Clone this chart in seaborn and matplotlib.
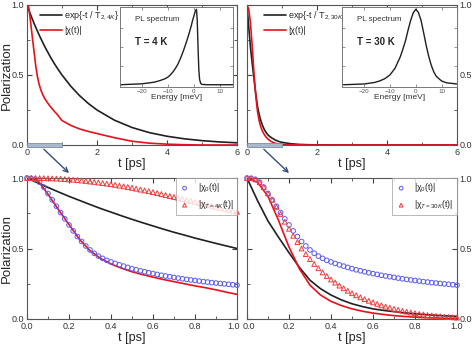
import numpy as np
import matplotlib
matplotlib.use("Agg")
import matplotlib.pyplot as plt
import matplotlib.transforms as mtransforms
from matplotlib.patches import Rectangle, ConnectionPatch
import seaborn as sns

# time grid for the lines (fine part 0..1 ps, then the tail up to 6 ps)
t_fine = [0, 0.05, 0.1, 0.15, 0.2, 0.25, 0.3, 0.35, 0.4, 0.45, 0.5,
          0.55, 0.6, 0.65, 0.7, 0.75, 0.8, 0.85, 0.9, 0.95, 1.0]
t_tail = [1.25, 1.5, 1.75, 2.0, 2.5, 3.0, 3.5, 4.0, 4.5, 5.0, 5.5, 6.0]

# T = 4 K
exp4k_fine = [1.0, 0.966, 0.933, 0.901, 0.870, 0.841, 0.812, 0.784, 0.758, 0.732, 0.707,
              0.683, 0.660, 0.637, 0.615, 0.595, 0.574, 0.555, 0.536, 0.518, 0.500]
exp4k_tail = [0.42, 0.353, 0.297, 0.25, 0.177, 0.125, 0.088, 0.0625, 0.044, 0.031, 0.022, 0.0156]
chi4k_fine = [1.0, 0.985, 0.885, 0.775, 0.67, 0.565, 0.485, 0.43, 0.39, 0.36, 0.335,
              0.315, 0.297, 0.28, 0.265, 0.25, 0.235, 0.222, 0.207, 0.19, 0.175]
chi4k_tail = [0.14, 0.115, 0.097, 0.082, 0.052, 0.027, 0.013, 0.006, 0.002, 0.0, 0.0, 0.0]

# T = 30 K
exp30k_fine = [1.0, 0.84, 0.695, 0.58, 0.47, 0.365, 0.275, 0.215, 0.17, 0.135, 0.108,
               0.088, 0.072, 0.061, 0.052, 0.044, 0.037, 0.031, 0.026, 0.022, 0.019]
exp30k_tail = [0.009, 0.004, 0.002, 0.001, 0.0, 0.0, 0.0, 0.0, 0.0, 0.0, 0.0, 0.0]
chi30k_fine = [1.0, 0.97, 0.87, 0.70, 0.51, 0.355, 0.24, 0.17, 0.125, 0.095, 0.072,
               0.055, 0.042, 0.032, 0.024, 0.018, 0.013, 0.009, 0.007, 0.005, 0.004]
chi30k_tail = [0.002, 0.001, 0.0, 0.0, 0.0, 0.0, 0.0, 0.0, 0.0, 0.0, 0.0, 0.0]

# symbols in the zoomed panels
t_sym = np.round(np.arange(0, 1.0001, 0.02), 2)
chi0 = [1.0, 0.998, 0.99, 0.97, 0.935, 0.89, 0.845, 0.80, 0.755, 0.71,
        0.667, 0.625, 0.585, 0.55, 0.518, 0.49, 0.466, 0.446, 0.43, 0.416,
        0.405, 0.394, 0.384, 0.375, 0.366, 0.357, 0.349, 0.342, 0.335, 0.328,
        0.322, 0.316, 0.31, 0.305, 0.30, 0.295, 0.29, 0.285, 0.281, 0.277,
        0.273, 0.269, 0.265, 0.262, 0.258, 0.255, 0.252, 0.249, 0.246, 0.243, 0.24]
chiT4k = [1.0, 1.0, 1.0, 0.999, 0.999, 0.998, 0.997, 0.996, 0.994, 0.992,
          0.99, 0.988, 0.985, 0.982, 0.979, 0.975, 0.972, 0.968, 0.964, 0.96,
          0.956, 0.951, 0.946, 0.941, 0.936, 0.93, 0.924, 0.918, 0.912, 0.906,
          0.90, 0.893, 0.886, 0.879, 0.872, 0.865, 0.858, 0.851, 0.844, 0.837,
          0.83, 0.823, 0.816, 0.809, 0.802, 0.795, 0.788, 0.781, 0.774, 0.767, 0.76]
chiT30k = [1.0, 0.998, 0.99, 0.97, 0.935, 0.89, 0.845, 0.795, 0.745, 0.69,
           0.64, 0.59, 0.545, 0.50, 0.46, 0.425, 0.39, 0.36, 0.33, 0.305,
           0.28, 0.258, 0.237, 0.218, 0.20, 0.183, 0.168, 0.154, 0.141, 0.129,
           0.118, 0.107, 0.097, 0.088, 0.08, 0.072, 0.065, 0.058, 0.052, 0.046,
           0.041, 0.036, 0.032, 0.028, 0.025, 0.022, 0.019, 0.016, 0.014, 0.012, 0.01]

# PL spectra (insets)
e_4k = [-28, -25, -20, -17, -15, -13, -11, -10, -9, -8, -7, -6, -5, -4, -3, -2, -1,
        -0.5, 0, 0.5, 1.0, 1.3, 1.6, 1.9, 2.2, 2.6, 3.0, 5.0, 15.0]
pl_4k = [0.0, 0.005, 0.012, 0.025, 0.035, 0.055, 0.08, 0.10, 0.13, 0.17, 0.22, 0.28,
         0.36, 0.45, 0.55, 0.66, 0.78, 0.85, 0.91, 0.97, 1.0, 0.85, 0.5, 0.2, 0.07,
         0.02, 0.005, 0.0, 0.0]
e_30k = [-28, -20, -16, -14, -12, -10, -8, -6, -5, -4, -3, -2, -1, 0,
         1, 2, 3, 4, 5, 6, 7, 8, 10, 12, 16]
pl_30k = [0.0, 0.01, 0.03, 0.05, 0.08, 0.13, 0.22, 0.37, 0.47, 0.58, 0.72, 0.85, 0.95, 1.0,
          0.96, 0.86, 0.70, 0.53, 0.38, 0.26, 0.17, 0.11, 0.05, 0.025, 0.01]

sns.set_style("ticks")
plt.rcParams['font.family'] = ['Liberation Sans', 'DejaVu Sans']
plt.rcParams['mathtext.fontset'] = 'custom'
plt.rcParams['mathtext.rm'] = 'Liberation Sans'
plt.rcParams['mathtext.it'] = 'Liberation Sans:italic'

W, H = 474, 355
fig = plt.figure(figsize=(W / 100, H / 100), dpi=100)


def box(x0, y0, x1, y1):
    return [x0 / W, 1 - y1 / H, (x1 - x0) / W, (y1 - y0) / H]


ax_tl = fig.add_axes(box(27, 5, 237, 145))
ax_tr = fig.add_axes(box(247, 5, 457, 145))
ax_bl = fig.add_axes(box(27, 178, 237, 319))
ax_br = fig.add_axes(box(247, 178, 457, 319))

red = '#e8101a'
blk = '#202020'
lw = 1.2


def style_main(ax, top, right_labels):
    ax.set_ylim(0, 1)
    ax.set_yticks([0, 0.5, 1.0])
    ax.set_yticks([0.25, 0.75], minor=True)
    ax.set_yticklabels(['0.0', '0.5', '1.0'])
    if top:
        ax.set_xlim(0, 6)
        ax.set_xticks([0, 2, 4, 6])
        ax.set_xticks([1, 3, 5], minor=True)
    else:
        ax.set_xlim(0, 1)
        ax.set_xticks([0, 0.2, 0.4, 0.6, 0.8, 1.0])
        ax.set_xticklabels(['0.0', '0.2', '0.4', '0.6', '0.8', '1.0'])
        ax.set_xticks([0.1, 0.3, 0.5, 0.7, 0.9], minor=True)
    ax.tick_params(which='both', direction='in', top=True, right=True, left=True,
                   labelsize=6.5, pad=2, color='#444444', labelcolor='#333333')
    ax.tick_params(which='major', length=3.5, width=0.8)
    ax.tick_params(which='minor', length=2, width=0.6)
    if right_labels:
        ax.tick_params(labelleft=False, labelright=True)
    for s in ax.spines.values():
        s.set_color('#555555')
        s.set_linewidth(0.8)
    ax.set_xlabel('t [ps]', fontsize=9, labelpad=1)
    if not right_labels:
        ax.set_ylabel('Polarization', fontsize=9.5)
        ax.yaxis.set_label_coords(-0.068, 0.5)
    else:
        ax.set_ylabel('')


t_top = t_fine + t_tail

# top panels
sns.lineplot(x=t_top, y=exp4k_fine + exp4k_tail, ax=ax_tl, color=blk, lw=lw,
             label='exp{-t / T$_{2,4K}$}')
sns.lineplot(x=t_top, y=chi4k_fine + chi4k_tail, ax=ax_tl, color=red, lw=lw,
             label='|χ(t)|')
sns.lineplot(x=t_top, y=exp30k_fine + exp30k_tail, ax=ax_tr, color=blk, lw=lw,
             label='exp{-t / T$_{2,30K}$}')
sns.lineplot(x=t_top, y=chi30k_fine + chi30k_tail, ax=ax_tr, color=red, lw=lw,
             label='|χ(t)|')

for ax, anchor in [(ax_tl, 0.04), (ax_tr, 0.06)]:
    ax.legend(loc='upper left', bbox_to_anchor=(anchor, 1.0), frameon=False,
              fontsize=6.5, handlelength=2.4, labelspacing=0.45, borderaxespad=0.2,
              handletextpad=0.3, borderpad=0.3)
    ax.add_patch(Rectangle((0, -0.012), 1.0, 0.028, facecolor='#aab8cc',
                           edgecolor='#7d8ca3', lw=0.6, clip_on=False, zorder=5))

style_main(ax_tl, True, False)
style_main(ax_tr, True, True)

# bottom panels
sns.lineplot(x=t_fine, y=exp4k_fine, ax=ax_bl, color=blk, lw=lw)
sns.lineplot(x=t_fine, y=chi4k_fine, ax=ax_bl, color=red, lw=lw)
sns.lineplot(x=t_fine, y=exp30k_fine, ax=ax_br, color=blk, lw=lw)
sns.lineplot(x=t_fine, y=chi30k_fine, ax=ax_br, color=red, lw=lw)

for ax, chiT, lab in [(ax_bl, chiT4k, r'|χ$_{T=4K}$(t)|'),
                      (ax_br, chiT30k, r'|χ$_{T=30K}$(t)|')]:
    sns.scatterplot(x=t_sym, y=chi0, ax=ax, marker='o', color='none',
                    edgecolor='#5a5af0', s=11, linewidth=0.7, label='|χ$_0$(t)|',
                    zorder=4, clip_on=False)
    sns.scatterplot(x=t_sym, y=chiT, ax=ax, marker='^', color='none',
                    edgecolor='#f03a3a', s=12, linewidth=0.7, label=lab,
                    zorder=4, clip_on=False)
    leg = ax.legend(loc='upper right', fontsize=6.3, frameon=True, fancybox=False,
                    borderaxespad=0, handlelength=1.2, labelspacing=0.45,
                    borderpad=0.4, handletextpad=0.9, markerscale=0.8)
    leg.get_frame().set_edgecolor('#999999')
    leg.get_frame().set_linewidth(0.6)

style_main(ax_bl, False, False)
style_main(ax_br, False, True)

# nudge the two touching tick labels between the lower panels apart
fig.canvas.draw()
lab_end = ax_bl.get_xticklabels()[-1]
lab_end.set_transform(lab_end.get_transform() +
                      mtransforms.ScaledTranslation(-3 / 100, 0, fig.dpi_scale_trans))
lab_start = ax_br.get_xticklabels()[0]
lab_start.set_transform(lab_start.get_transform() +
                        mtransforms.ScaledTranslation(2 / 100, 0, fig.dpi_scale_trans))

# insets with the PL spectra
for rect, e, pl, xl, temp in [(box(120, 7, 233, 87), e_4k, pl_4k, (-28.3, 15), 'T = 4 K'),
                              (box(342, 7, 457, 87), e_30k, pl_30k, (-28.6, 16), 'T = 30 K')]:
    ins = fig.add_axes(rect)
    sns.lineplot(x=e, y=pl, ax=ins, color=blk, lw=1.0)
    ins.set_xlim(*xl)
    ins.set_ylim(-0.03, 1.03)
    ins.set_xticks([-20, -10, 0, 10])
    ins.set_yticks([0.25, 0.5, 0.75])
    ins.set_yticklabels([])
    ins.tick_params(direction='in', top=True, right=True, length=2, width=0.5,
                    labelsize=4.5, pad=1.5, colors='#666666')
    ins.tick_params(axis='x', labelcolor='#555555')
    for s in ins.spines.values():
        s.set_color('#777777')
        s.set_linewidth(0.7)
    ins.set_xlabel('Energy [meV]', fontsize=6, labelpad=0, color='#333333')
    ins.set_ylabel('')
    ins.text(0.13, 0.84, 'PL spectrum', transform=ins.transAxes, fontsize=5.8,
             color='#333333', va='center')
    ins.text(0.13, 0.56, temp, transform=ins.transAxes, fontsize=7,
             fontweight='bold', va='center')

# arrows from the highlighted range down to the zoomed panels
for a_top, a_bot in [(ax_tl, ax_bl), (ax_tr, ax_br)]:
    con = ConnectionPatch(xyA=(0.48, -0.03), coordsA=a_top.transData,
                          xyB=(0.2, 1.035), coordsB=a_bot.transData,
                          arrowstyle='->', color='#34507a', lw=1.0,
                          mutation_scale=8)
    fig.add_artist(con)

fig.savefig('out.png', dpi=100)
